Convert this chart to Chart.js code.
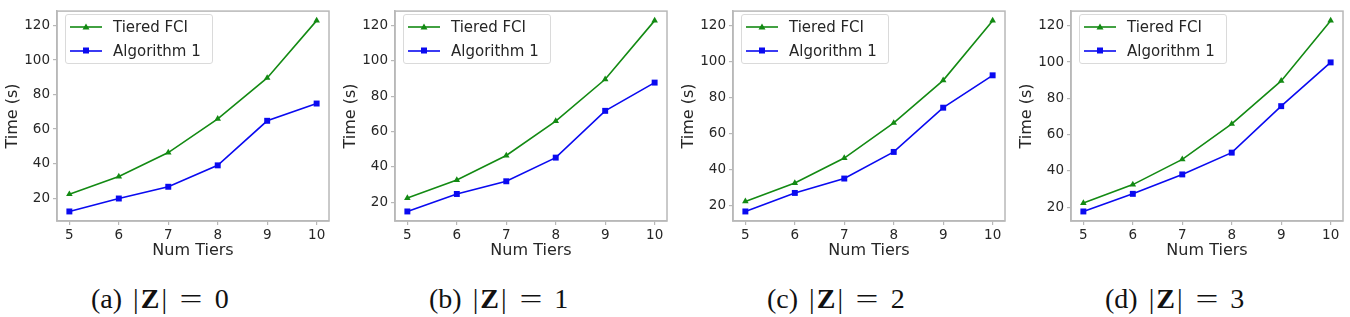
<!DOCTYPE html>
<html>
<head>
<meta charset="utf-8">
<script src="https://cdn.jsdelivr.net/npm/chart.js@4.4.0/dist/chart.umd.min.js"></script>
<style>
  body { margin: 0; background: #fff; width: 1350px; height: 317px; position: relative; overflow: hidden; font-family: "DejaVu Sans", sans-serif; }
  .panel { position: absolute; top: 0; width: 338px; height: 260px; }
  .panel canvas { position: absolute; left: 0; top: 0; }
  .legend { position: absolute; top: 14px; width: 146px; height: 48px; border: 1px solid #dadada; border-radius: 3px; background: rgba(255,255,255,0.8); }
  .legend svg { position: absolute; left: 4px; }
  .legend span { position: absolute; left: 47px; font-size: 15px; line-height: 18px; color: #262626; white-space: nowrap; }
  .caption { position: absolute; top: 284px; font-family: "Liberation Serif", serif; font-size: 28px; line-height: 30px; color: #111; white-space: nowrap; }
  .caption .eq { display: inline-block; transform: scaleX(1.45); margin: 0 16px 0 16px; }
</style>
</head>
<body>
<script>
// x values and series
const tiers = [5, 6, 7, 8, 9, 10];
const tieredFci = [22.3, 32.5, 46.4, 65.9, 89.6, 122.8];
const alg1Z0 = [12.3, 19.8, 26.6, 39.0, 64.8, 74.8];
const alg1Z1 = [14.7, 24.6, 31.8, 45.2, 71.7, 87.7];
const alg1Z2 = [16.7, 27.0, 35.0, 49.8, 74.4, 92.4];
const alg1Z3 = [17.7, 27.4, 38.1, 50.1, 75.7, 99.8];
const captions = ['a', 'b', 'c', 'd'];
const zValues = [0, 1, 2, 3];
const alg1Series = [alg1Z0, alg1Z1, alg1Z2, alg1Z3];

const GREEN = '#138a13';
const BLUE = '#0a0af0';
const AXIS = '#b8b8b8';
const TEXT = '#262626';

// draws the gray box round the plot area like matplotlib spines
const framePlugin = {
  id: 'frame',
  afterDraw(chart) {
    const a = chart.chartArea, ctx = chart.ctx;
    ctx.save();
    ctx.strokeStyle = AXIS;
    ctx.lineWidth = 1.5;
    ctx.strokeRect(a.left, a.top, a.right - a.left, a.bottom - a.top);
    ctx.restore();
  }
};

function pad(arr) {
  const lo = Math.min(...arr), hi = Math.max(...arr);
  const m = (hi - lo) * 0.05;
  return [lo - m, hi + m];
}

function legendSample(color, shape, top) {
  const mark = shape === 'triangle'
    ? `<polygon points="16,6.5 19.5,12.5 12.5,12.5" fill="${color}"/>`
    : `<rect x="13" y="6.5" width="6" height="6" fill="${color}"/>`;
  return `<svg width="32" height="20" style="top:${top}px"><line x1="0" y1="10" x2="32" y2="10" stroke="${color}" stroke-width="1.6"/>${mark}</svg>`;
}

captions.forEach((c, i) => {
  const left = i * 338;
  const panel = document.createElement('div');
  panel.className = 'panel';
  panel.style.left = left + 'px';
  const canvas = document.createElement('canvas');
  canvas.width = 338; canvas.height = 260;
  canvas.style.width = '338px'; canvas.style.height = '260px';
  panel.appendChild(canvas);
  document.body.appendChild(panel);

  const alg = alg1Series[i];
  const [ymin, ymax] = pad(tieredFci.concat(alg));
  const [xmin, xmax] = pad(tiers);
  const tickFont = { family: 'DejaVu Sans', size: 13.5 };
  const titleFont = { family: 'DejaVu Sans', size: 16 };

  const chart = new Chart(canvas, {
    type: 'line',
    data: {
      datasets: [
        {
          label: 'Tiered FCI',
          data: tiers.map((x, k) => ({ x: x, y: tieredFci[k] })),
          borderColor: GREEN, backgroundColor: GREEN,
          borderWidth: 1.6, pointStyle: 'triangle', pointRadius: 3.8,
          pointBorderWidth: 0, tension: 0
        },
        {
          label: 'Algorithm 1',
          data: tiers.map((x, k) => ({ x: x, y: alg[k] })),
          borderColor: BLUE, backgroundColor: BLUE,
          borderWidth: 1.6, pointStyle: 'rect', pointRadius: 4.2,
          pointBorderWidth: 0, tension: 0
        }
      ]
    },
    options: {
      responsive: false,
      animation: false,
      devicePixelRatio: 1,
      layout: { padding: { top: 6, right: 9, left: 0, bottom: 0 } },
      plugins: { legend: { display: false }, tooltip: { enabled: false } },
      scales: {
        x: {
          type: 'linear', min: xmin, max: xmax,
          afterFit(s) { s.height = 39; },
          ticks: { stepSize: 1, includeBounds: false, color: TEXT, padding: 2, font: tickFont },
          grid: { drawOnChartArea: false, tickLength: 4, color: AXIS, lineWidth: 1.2 },
          border: { color: AXIS, width: 1.5 },
          title: { display: true, text: 'Num Tiers', color: TEXT, padding: { top: 0, bottom: 0 }, font: titleFont }
        },
        y: {
          min: ymin, max: ymax,
          afterFit(s) { s.width = 57; },
          ticks: { stepSize: 20, includeBounds: false, color: TEXT, padding: 3, font: tickFont },
          grid: { drawOnChartArea: false, tickLength: 4, color: AXIS, lineWidth: 1.2 },
          border: { color: AXIS, width: 1.5 },
          title: { display: true, text: 'Time (s)', color: TEXT, padding: { top: 3, bottom: 0 }, font: titleFont }
        }
      }
    },
    plugins: [framePlugin]
  });

  // matplotlib-style legend box in the upper left of the plot
  const leg = document.createElement('div');
  leg.className = 'legend';
  leg.style.left = (chart.chartArea.left + 8) + 'px';
  leg.innerHTML = chart.data.datasets.map((d, k) => {
    const top = 2 + k * 24;
    return legendSample(d.borderColor, d.pointStyle, top) +
      `<span style="top:${top + 1}px">${d.label}</span>`;
  }).join('');
  panel.appendChild(leg);

  const cap = document.createElement('div');
  cap.className = 'caption';
  cap.style.left = (left + 91) + 'px';
  cap.innerHTML = `(${c})<span style="margin-left:11px">|</span><b style="margin:0 2px">Z</b>|<span class="eq">=</span>${zValues[i]}`;
  document.body.appendChild(cap);
});
</script>
</body>
</html>
